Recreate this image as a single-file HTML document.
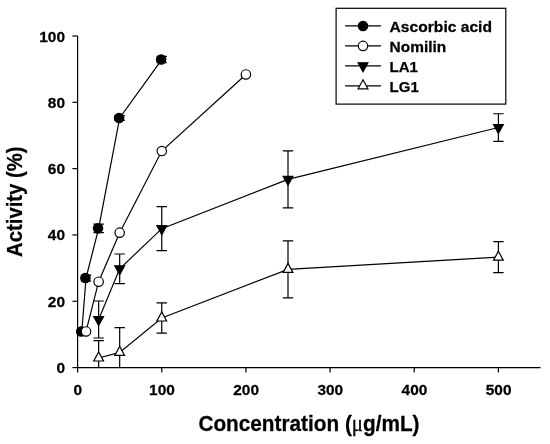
<!DOCTYPE html><html><head><meta charset="utf-8"><style>
html,body{margin:0;padding:0;background:#fff;}
#c{position:relative;width:550px;height:444px;overflow:hidden;background:#fff;}
svg{position:absolute;left:0;top:0;}
text{font-family:"Liberation Sans",Arial,sans-serif;font-weight:bold;fill:#000;}
</style></head><body><div id="c">
<svg width="550" height="444" viewBox="0 0 550 444">
<g stroke="#000" stroke-width="1.2" fill="none">
<path d="M77.6 36V367.6H540.48"/>
<path d="M72.4 367.6H77.6"/>
<path d="M72.4 301.28H77.6"/>
<path d="M72.4 234.96H77.6"/>
<path d="M72.4 168.64H77.6"/>
<path d="M72.4 102.32H77.6"/>
<path d="M72.4 36H77.6"/>
<path d="M77.6 367.6V372.6"/>
<path d="M161.76 367.6V372.6"/>
<path d="M245.92 367.6V372.6"/>
<path d="M330.08 367.6V372.6"/>
<path d="M414.24 367.6V372.6"/>
<path d="M498.4 367.6V372.6"/>
</g>
<g stroke="#000" stroke-width="0.25">
<text transform="translate(65 373.1) scale(1.03 1.0)" font-size="15" text-anchor="end">0</text>
<text transform="translate(65 306.78) scale(1.03 1.0)" font-size="15" text-anchor="end">20</text>
<text transform="translate(65 240.46) scale(1.03 1.0)" font-size="15" text-anchor="end">40</text>
<text transform="translate(65 174.14) scale(1.03 1.0)" font-size="15" text-anchor="end">60</text>
<text transform="translate(65 107.82) scale(1.03 1.0)" font-size="15" text-anchor="end">80</text>
<text transform="translate(65 41.5) scale(1.03 1.0)" font-size="15" text-anchor="end">100</text>
<text transform="translate(77.8 394.6) scale(1.03 1.0)" font-size="15" text-anchor="middle">0</text>
<text transform="translate(161.96 394.6) scale(1.03 1.0)" font-size="15" text-anchor="middle">100</text>
<text transform="translate(246.12 394.6) scale(1.03 1.0)" font-size="15" text-anchor="middle">200</text>
<text transform="translate(330.28 394.6) scale(1.03 1.0)" font-size="15" text-anchor="middle">300</text>
<text transform="translate(414.44 394.6) scale(1.03 1.0)" font-size="15" text-anchor="middle">400</text>
<text transform="translate(498.6 394.6) scale(1.03 1.0)" font-size="15" text-anchor="middle">500</text>
<text transform="translate(198.4 430.6) scale(0.99 1.05)" font-size="21">Concentration (<tspan font-weight="normal" font-family="Liberation Serif, serif">&#956;</tspan>g/mL)</text>
<text transform="translate(21.6 256.9) rotate(-90) scale(0.966 1.03)" font-size="21">Activity (%)</text>
</g>
<g stroke="#000" stroke-width="1.2" fill="none">
<path d="M81.81 331.46L86.02 278.07L98.64 228.33L119.68 118L161.76 59.54"/>
<path d="M86.02 331.46L98.64 281.72L119.68 232.64L161.76 151.07L245.92 74.47"/>
<path d="M98.64 319.52L119.68 268.78L161.76 228.66L288 179.35L498.4 127.52"/>
<path d="M98.64 357.98L119.68 352.41L161.76 317.99L288 269.35L498.4 257.21"/>
<path d="M86.02 275.08V281.05M80.82 275.08H91.22M80.82 281.05H91.22"/>
<path d="M98.64 224.12V232.54M93.44 224.12H103.84M93.44 232.54H103.84"/>
<path d="M119.68 115.68V120.33M114.48 115.68H124.88M114.48 120.33H124.88"/>
<path d="M161.76 56.33V62.76M156.56 56.33H166.96M156.56 62.76H166.96"/>
<path d="M98.64 301.01V338.02M93.44 301.01H103.84M93.44 338.02H103.84"/>
<path d="M119.68 253.99V283.57M114.48 253.99H124.88M114.48 283.57H124.88"/>
<path d="M161.76 206.67V250.64M156.56 206.67H166.96M156.56 250.64H166.96"/>
<path d="M288 150.9V207.8M282.8 150.9H293.2M282.8 207.8H293.2"/>
<path d="M498.4 113.73V141.32M493.2 113.73H503.6M493.2 141.32H503.6"/>
<path d="M98.64 340.61V367.6M93.44 340.61H103.84"/>
<path d="M119.68 327.54V367.6M114.48 327.54H124.88"/>
<path d="M161.76 302.81V333.18M156.56 302.81H166.96M156.56 333.18H166.96"/>
<path d="M288 240.8V297.9M282.8 240.8H293.2M282.8 297.9H293.2"/>
<path d="M498.4 241.72V272.7M493.2 241.72H503.6M493.2 272.7H503.6"/>
</g>
<g stroke="#000" stroke-width="1.2">
<circle cx="81.21" cy="331.46" r="4.7" fill="#000"/>
<circle cx="85.42" cy="278.07" r="4.7" fill="#000"/>
<circle cx="98.04" cy="228.33" r="4.7" fill="#000"/>
<circle cx="119.08" cy="118" r="4.7" fill="#000"/>
<circle cx="161.16" cy="59.54" r="4.7" fill="#000"/>
<circle cx="86.02" cy="331.46" r="4.7" fill="#fff"/>
<circle cx="98.64" cy="281.72" r="4.7" fill="#fff"/>
<circle cx="119.68" cy="232.64" r="4.7" fill="#fff"/>
<circle cx="161.76" cy="151.07" r="4.7" fill="#fff"/>
<circle cx="245.92" cy="74.47" r="4.7" fill="#fff"/>
<path d="M93.74 316.52H103.54L98.64 325.52Z" fill="#000"/>
<path d="M114.78 265.78H124.58L119.68 274.78Z" fill="#000"/>
<path d="M156.86 225.66H166.66L161.76 234.66Z" fill="#000"/>
<path d="M283.1 176.35H292.9L288 185.35Z" fill="#000"/>
<path d="M493.5 124.52H503.3L498.4 133.52Z" fill="#000"/>
<path d="M93.74 360.98H103.54L98.64 351.98Z" fill="#fff"/>
<path d="M114.78 355.41H124.58L119.68 346.41Z" fill="#fff"/>
<path d="M156.86 320.99H166.66L161.76 311.99Z" fill="#fff"/>
<path d="M283.1 272.35H292.9L288 263.35Z" fill="#fff"/>
<path d="M493.5 260.21H503.3L498.4 251.21Z" fill="#fff"/>
</g>
<rect x="336.1" y="8.3" width="169.7" height="95.8" fill="#fff" stroke="#000" stroke-width="1.2"/>
<g stroke="#000" stroke-width="1.2">
<path d="M345.1 25.95H381" fill="none"/>
<circle cx="363" cy="25.95" r="4.7" fill="#000"/>
<path d="M345.1 45.9H381" fill="none"/>
<circle cx="363" cy="45.9" r="4.7" fill="#fff"/>
<path d="M345.1 65.85H381" fill="none"/>
<path d="M358.1 62.85H367.9L363 71.85Z" fill="#000"/>
<path d="M345.1 85.8H381" fill="none"/>
<path d="M358.1 88.8H367.9L363 79.8Z" fill="#fff"/>
</g>
<g stroke="#000" stroke-width="0.25">
<text transform="translate(389.6 31.75) scale(1.042 1.0)" font-size="15">Ascorbic acid</text>
<text transform="translate(389.6 51.7) scale(1.03 1.0)" font-size="15">Nomilin</text>
<text transform="translate(389.6 71.65) scale(1.0 1.0)" font-size="15">LA1</text>
<text transform="translate(389.6 91.6) scale(1.0 1.0)" font-size="15">LG1</text>
</g>
</svg></div></body></html>
